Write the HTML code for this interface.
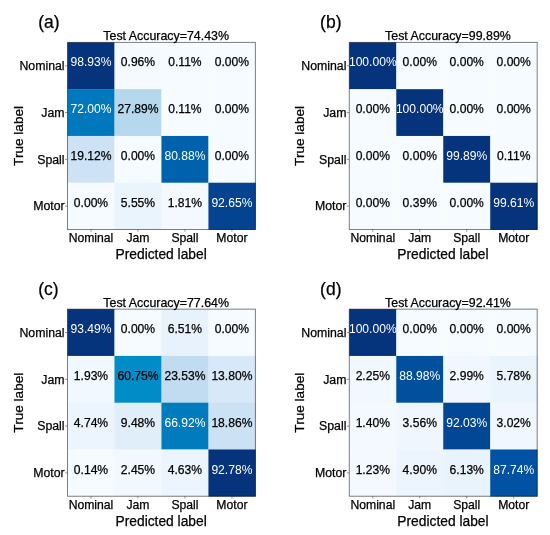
<!DOCTYPE html>
<html><head><meta charset="utf-8"><style>
html,body{margin:0;padding:0;background:#fff;}
svg{display:block;}
text{font-family:"Liberation Sans", Arial, Helvetica, sans-serif;stroke-width:0.25px;}
.k{stroke:#000;}
.w{stroke:none;}
.v{font-size:12.1px;text-anchor:middle;}
.yt{font-size:12.3px;text-anchor:end;fill:#000;}
.xt{font-size:12.2px;text-anchor:middle;fill:#000;}
.al{font-size:13.8px;text-anchor:middle;fill:#000;}
.yl{font-size:13.6px;}
.ti{font-size:12.4px;text-anchor:start;fill:#000;}
.pl{font-size:17.5px;text-anchor:start;fill:#000;}
</style></head><body>
<svg width="550" height="535" viewBox="0 0 550 535">
<rect width="550" height="535" fill="#fff"/>
<g><rect x="67.50" y="42.40" width="47.27" height="47.07" fill="#05337c"/>
<rect x="114.47" y="42.40" width="47.27" height="47.07" fill="#f4fafe"/>
<rect x="161.45" y="42.40" width="47.27" height="47.07" fill="#f6fbff"/>
<rect x="208.43" y="42.40" width="47.27" height="47.07" fill="#f6fbff"/>
<rect x="67.50" y="89.17" width="47.27" height="47.07" fill="#0078bd"/>
<rect x="114.47" y="89.17" width="47.27" height="47.07" fill="#b5d8ed"/>
<rect x="161.45" y="89.17" width="47.27" height="47.07" fill="#f6fbff"/>
<rect x="208.43" y="89.17" width="47.27" height="47.07" fill="#f6fbff"/>
<rect x="67.50" y="135.95" width="47.27" height="47.07" fill="#cde3f5"/>
<rect x="114.47" y="135.95" width="47.27" height="47.07" fill="#f6fbff"/>
<rect x="161.45" y="135.95" width="47.27" height="47.07" fill="#0061ac"/>
<rect x="208.43" y="135.95" width="47.27" height="47.07" fill="#f6fbff"/>
<rect x="67.50" y="182.72" width="47.27" height="47.07" fill="#f6fbff"/>
<rect x="114.47" y="182.72" width="47.27" height="47.07" fill="#eaf4fc"/>
<rect x="161.45" y="182.72" width="47.27" height="47.07" fill="#f3f9ff"/>
<rect x="208.43" y="182.72" width="47.27" height="47.07" fill="#034390"/>
<rect x="67.50" y="42.40" width="187.90" height="187.10" fill="none" stroke="rgba(0,0,0,0.5)" stroke-width="1"/>
<text x="90.99" y="66.49" class="v w" fill="#fff">98.93%</text>
<text x="137.96" y="66.49" class="v k" fill="#000">0.96%</text>
<text x="184.94" y="66.49" class="v k" fill="#000">0.11%</text>
<text x="231.91" y="66.49" class="v k" fill="#000">0.00%</text>
<text x="90.99" y="113.26" class="v w" fill="#fff">72.00%</text>
<text x="137.96" y="113.26" class="v k" fill="#000">27.89%</text>
<text x="184.94" y="113.26" class="v k" fill="#000">0.11%</text>
<text x="231.91" y="113.26" class="v k" fill="#000">0.00%</text>
<text x="90.99" y="160.04" class="v k" fill="#000">19.12%</text>
<text x="137.96" y="160.04" class="v k" fill="#000">0.00%</text>
<text x="184.94" y="160.04" class="v w" fill="#fff">80.88%</text>
<text x="231.91" y="160.04" class="v k" fill="#000">0.00%</text>
<text x="90.99" y="206.81" class="v k" fill="#000">0.00%</text>
<text x="137.96" y="206.81" class="v k" fill="#000">5.55%</text>
<text x="184.94" y="206.81" class="v k" fill="#000">1.81%</text>
<text x="231.91" y="206.81" class="v w" fill="#fff">92.65%</text>
<line x1="65.00" x2="67.50" y1="65.79" y2="65.79" stroke="rgba(0,0,0,0.5)" stroke-width="0.8"/>
<text x="64.60" y="69.99" class="yt k">Nominal</text>
<line x1="65.00" x2="67.50" y1="112.56" y2="112.56" stroke="rgba(0,0,0,0.5)" stroke-width="0.8"/>
<text x="64.60" y="116.76" class="yt k">Jam</text>
<line x1="65.00" x2="67.50" y1="159.34" y2="159.34" stroke="rgba(0,0,0,0.5)" stroke-width="0.8"/>
<text x="64.60" y="163.54" class="yt k">Spall</text>
<line x1="65.00" x2="67.50" y1="206.11" y2="206.11" stroke="rgba(0,0,0,0.5)" stroke-width="0.8"/>
<text x="64.60" y="210.31" class="yt k">Motor</text>
<line x1="90.99" x2="90.99" y1="229.50" y2="231.80" stroke="rgba(0,0,0,0.5)" stroke-width="0.8"/>
<text x="90.99" y="241.80" class="xt k">Nominal</text>
<line x1="137.96" x2="137.96" y1="229.50" y2="231.80" stroke="rgba(0,0,0,0.5)" stroke-width="0.8"/>
<text x="137.96" y="241.80" class="xt k">Jam</text>
<line x1="184.94" x2="184.94" y1="229.50" y2="231.80" stroke="rgba(0,0,0,0.5)" stroke-width="0.8"/>
<text x="184.94" y="241.80" class="xt k">Spall</text>
<line x1="231.91" x2="231.91" y1="229.50" y2="231.80" stroke="rgba(0,0,0,0.5)" stroke-width="0.8"/>
<text x="231.91" y="241.80" class="xt k">Motor</text>
<text x="161.15" y="259.40" class="al k">Predicted label</text>
<text transform="translate(22.50,135.95) rotate(-90)" x="0" y="0" class="al yl k">True label</text>
<text x="103.30" y="40.00" class="ti k">Test Accuracy=74.43%</text>
<text x="38.30" y="28.00" class="pl k">(a)</text></g>
<g><rect x="349.30" y="42.40" width="47.27" height="47.07" fill="#05337c"/>
<rect x="396.28" y="42.40" width="47.27" height="47.07" fill="#f6fbff"/>
<rect x="443.25" y="42.40" width="47.27" height="47.07" fill="#f6fbff"/>
<rect x="490.23" y="42.40" width="47.27" height="47.07" fill="#f6fbff"/>
<rect x="349.30" y="89.17" width="47.27" height="47.07" fill="#f6fbff"/>
<rect x="396.28" y="89.17" width="47.27" height="47.07" fill="#05337c"/>
<rect x="443.25" y="89.17" width="47.27" height="47.07" fill="#f6fbff"/>
<rect x="490.23" y="89.17" width="47.27" height="47.07" fill="#f6fbff"/>
<rect x="349.30" y="135.95" width="47.27" height="47.07" fill="#f6fbff"/>
<rect x="396.28" y="135.95" width="47.27" height="47.07" fill="#f6fbff"/>
<rect x="443.25" y="135.95" width="47.27" height="47.07" fill="#05337c"/>
<rect x="490.23" y="135.95" width="47.27" height="47.07" fill="#f6fbff"/>
<rect x="349.30" y="182.72" width="47.27" height="47.07" fill="#f6fbff"/>
<rect x="396.28" y="182.72" width="47.27" height="47.07" fill="#f6fbff"/>
<rect x="443.25" y="182.72" width="47.27" height="47.07" fill="#f6fbff"/>
<rect x="490.23" y="182.72" width="47.27" height="47.07" fill="#05337c"/>
<rect x="349.30" y="42.40" width="187.90" height="187.10" fill="none" stroke="rgba(0,0,0,0.5)" stroke-width="1"/>
<text x="372.79" y="66.49" class="v w" fill="#fff">100.00%</text>
<text x="419.76" y="66.49" class="v k" fill="#000">0.00%</text>
<text x="466.74" y="66.49" class="v k" fill="#000">0.00%</text>
<text x="513.71" y="66.49" class="v k" fill="#000">0.00%</text>
<text x="372.79" y="113.26" class="v k" fill="#000">0.00%</text>
<text x="419.76" y="113.26" class="v w" fill="#fff">100.00%</text>
<text x="466.74" y="113.26" class="v k" fill="#000">0.00%</text>
<text x="513.71" y="113.26" class="v k" fill="#000">0.00%</text>
<text x="372.79" y="160.04" class="v k" fill="#000">0.00%</text>
<text x="419.76" y="160.04" class="v k" fill="#000">0.00%</text>
<text x="466.74" y="160.04" class="v w" fill="#fff">99.89%</text>
<text x="513.71" y="160.04" class="v k" fill="#000">0.11%</text>
<text x="372.79" y="206.81" class="v k" fill="#000">0.00%</text>
<text x="419.76" y="206.81" class="v k" fill="#000">0.39%</text>
<text x="466.74" y="206.81" class="v k" fill="#000">0.00%</text>
<text x="513.71" y="206.81" class="v w" fill="#fff">99.61%</text>
<line x1="346.80" x2="349.30" y1="65.79" y2="65.79" stroke="rgba(0,0,0,0.5)" stroke-width="0.8"/>
<text x="346.40" y="69.99" class="yt k">Nominal</text>
<line x1="346.80" x2="349.30" y1="112.56" y2="112.56" stroke="rgba(0,0,0,0.5)" stroke-width="0.8"/>
<text x="346.40" y="116.76" class="yt k">Jam</text>
<line x1="346.80" x2="349.30" y1="159.34" y2="159.34" stroke="rgba(0,0,0,0.5)" stroke-width="0.8"/>
<text x="346.40" y="163.54" class="yt k">Spall</text>
<line x1="346.80" x2="349.30" y1="206.11" y2="206.11" stroke="rgba(0,0,0,0.5)" stroke-width="0.8"/>
<text x="346.40" y="210.31" class="yt k">Motor</text>
<line x1="372.79" x2="372.79" y1="229.50" y2="231.80" stroke="rgba(0,0,0,0.5)" stroke-width="0.8"/>
<text x="372.79" y="241.80" class="xt k">Nominal</text>
<line x1="419.76" x2="419.76" y1="229.50" y2="231.80" stroke="rgba(0,0,0,0.5)" stroke-width="0.8"/>
<text x="419.76" y="241.80" class="xt k">Jam</text>
<line x1="466.74" x2="466.74" y1="229.50" y2="231.80" stroke="rgba(0,0,0,0.5)" stroke-width="0.8"/>
<text x="466.74" y="241.80" class="xt k">Spall</text>
<line x1="513.71" x2="513.71" y1="229.50" y2="231.80" stroke="rgba(0,0,0,0.5)" stroke-width="0.8"/>
<text x="513.71" y="241.80" class="xt k">Motor</text>
<text x="442.95" y="259.40" class="al k">Predicted label</text>
<text transform="translate(304.30,135.95) rotate(-90)" x="0" y="0" class="al yl k">True label</text>
<text x="385.10" y="40.00" class="ti k">Test Accuracy=99.89%</text>
<text x="320.10" y="28.00" class="pl k">(b)</text></g>
<g><rect x="67.50" y="309.15" width="47.27" height="47.07" fill="#05337c"/>
<rect x="114.47" y="309.15" width="47.27" height="47.07" fill="#f6fbff"/>
<rect x="161.45" y="309.15" width="47.27" height="47.07" fill="#e8f2fc"/>
<rect x="208.43" y="309.15" width="47.27" height="47.07" fill="#f6fbff"/>
<rect x="67.50" y="355.92" width="47.27" height="47.07" fill="#f2f8ff"/>
<rect x="114.47" y="355.92" width="47.27" height="47.07" fill="#008dc7"/>
<rect x="161.45" y="355.92" width="47.27" height="47.07" fill="#c1dcf1"/>
<rect x="208.43" y="355.92" width="47.27" height="47.07" fill="#d7e9f8"/>
<rect x="67.50" y="402.70" width="47.27" height="47.07" fill="#ecf5fd"/>
<rect x="114.47" y="402.70" width="47.27" height="47.07" fill="#e0eefa"/>
<rect x="161.45" y="402.70" width="47.27" height="47.07" fill="#007cbe"/>
<rect x="208.43" y="402.70" width="47.27" height="47.07" fill="#cce2f4"/>
<rect x="67.50" y="449.47" width="47.27" height="47.07" fill="#f6fbff"/>
<rect x="114.47" y="449.47" width="47.27" height="47.07" fill="#f1f8fe"/>
<rect x="161.45" y="449.47" width="47.27" height="47.07" fill="#ecf5fd"/>
<rect x="208.43" y="449.47" width="47.27" height="47.07" fill="#05347d"/>
<rect x="67.50" y="309.15" width="187.90" height="187.10" fill="none" stroke="rgba(0,0,0,0.5)" stroke-width="1"/>
<text x="90.99" y="333.24" class="v w" fill="#fff">93.49%</text>
<text x="137.96" y="333.24" class="v k" fill="#000">0.00%</text>
<text x="184.94" y="333.24" class="v k" fill="#000">6.51%</text>
<text x="231.91" y="333.24" class="v k" fill="#000">0.00%</text>
<text x="90.99" y="380.01" class="v k" fill="#000">1.93%</text>
<text x="137.96" y="380.01" class="v k" fill="#000">60.75%</text>
<text x="184.94" y="380.01" class="v k" fill="#000">23.53%</text>
<text x="231.91" y="380.01" class="v k" fill="#000">13.80%</text>
<text x="90.99" y="426.79" class="v k" fill="#000">4.74%</text>
<text x="137.96" y="426.79" class="v k" fill="#000">9.48%</text>
<text x="184.94" y="426.79" class="v w" fill="#fff">66.92%</text>
<text x="231.91" y="426.79" class="v k" fill="#000">18.86%</text>
<text x="90.99" y="473.56" class="v k" fill="#000">0.14%</text>
<text x="137.96" y="473.56" class="v k" fill="#000">2.45%</text>
<text x="184.94" y="473.56" class="v k" fill="#000">4.63%</text>
<text x="231.91" y="473.56" class="v w" fill="#fff">92.78%</text>
<line x1="65.00" x2="67.50" y1="332.54" y2="332.54" stroke="rgba(0,0,0,0.5)" stroke-width="0.8"/>
<text x="64.60" y="336.74" class="yt k">Nominal</text>
<line x1="65.00" x2="67.50" y1="379.31" y2="379.31" stroke="rgba(0,0,0,0.5)" stroke-width="0.8"/>
<text x="64.60" y="383.51" class="yt k">Jam</text>
<line x1="65.00" x2="67.50" y1="426.09" y2="426.09" stroke="rgba(0,0,0,0.5)" stroke-width="0.8"/>
<text x="64.60" y="430.29" class="yt k">Spall</text>
<line x1="65.00" x2="67.50" y1="472.86" y2="472.86" stroke="rgba(0,0,0,0.5)" stroke-width="0.8"/>
<text x="64.60" y="477.06" class="yt k">Motor</text>
<line x1="90.99" x2="90.99" y1="496.25" y2="498.55" stroke="rgba(0,0,0,0.5)" stroke-width="0.8"/>
<text x="90.99" y="508.55" class="xt k">Nominal</text>
<line x1="137.96" x2="137.96" y1="496.25" y2="498.55" stroke="rgba(0,0,0,0.5)" stroke-width="0.8"/>
<text x="137.96" y="508.55" class="xt k">Jam</text>
<line x1="184.94" x2="184.94" y1="496.25" y2="498.55" stroke="rgba(0,0,0,0.5)" stroke-width="0.8"/>
<text x="184.94" y="508.55" class="xt k">Spall</text>
<line x1="231.91" x2="231.91" y1="496.25" y2="498.55" stroke="rgba(0,0,0,0.5)" stroke-width="0.8"/>
<text x="231.91" y="508.55" class="xt k">Motor</text>
<text x="161.15" y="526.15" class="al k">Predicted label</text>
<text transform="translate(22.50,402.70) rotate(-90)" x="0" y="0" class="al yl k">True label</text>
<text x="103.30" y="306.75" class="ti k">Test Accuracy=77.64%</text>
<text x="38.30" y="294.75" class="pl k">(c)</text></g>
<g><rect x="349.30" y="309.15" width="47.27" height="47.07" fill="#05337c"/>
<rect x="396.28" y="309.15" width="47.27" height="47.07" fill="#f6fbff"/>
<rect x="443.25" y="309.15" width="47.27" height="47.07" fill="#f6fbff"/>
<rect x="490.23" y="309.15" width="47.27" height="47.07" fill="#f6fbff"/>
<rect x="349.30" y="355.92" width="47.27" height="47.07" fill="#f2f8ff"/>
<rect x="396.28" y="355.92" width="47.27" height="47.07" fill="#01509e"/>
<rect x="443.25" y="355.92" width="47.27" height="47.07" fill="#f1f7fe"/>
<rect x="490.23" y="355.92" width="47.27" height="47.07" fill="#eaf4fc"/>
<rect x="349.30" y="402.70" width="47.27" height="47.07" fill="#f4f9ff"/>
<rect x="396.28" y="402.70" width="47.27" height="47.07" fill="#eff6fe"/>
<rect x="443.25" y="402.70" width="47.27" height="47.07" fill="#024795"/>
<rect x="490.23" y="402.70" width="47.27" height="47.07" fill="#f1f7fe"/>
<rect x="349.30" y="449.47" width="47.27" height="47.07" fill="#f4f9ff"/>
<rect x="396.28" y="449.47" width="47.27" height="47.07" fill="#ecf5fd"/>
<rect x="443.25" y="449.47" width="47.27" height="47.07" fill="#e9f3fc"/>
<rect x="490.23" y="449.47" width="47.27" height="47.07" fill="#0152a2"/>
<rect x="349.30" y="309.15" width="187.90" height="187.10" fill="none" stroke="rgba(0,0,0,0.5)" stroke-width="1"/>
<text x="372.79" y="333.24" class="v w" fill="#fff">100.00%</text>
<text x="419.76" y="333.24" class="v k" fill="#000">0.00%</text>
<text x="466.74" y="333.24" class="v k" fill="#000">0.00%</text>
<text x="513.71" y="333.24" class="v k" fill="#000">0.00%</text>
<text x="372.79" y="380.01" class="v k" fill="#000">2.25%</text>
<text x="419.76" y="380.01" class="v w" fill="#fff">88.98%</text>
<text x="466.74" y="380.01" class="v k" fill="#000">2.99%</text>
<text x="513.71" y="380.01" class="v k" fill="#000">5.78%</text>
<text x="372.79" y="426.79" class="v k" fill="#000">1.40%</text>
<text x="419.76" y="426.79" class="v k" fill="#000">3.56%</text>
<text x="466.74" y="426.79" class="v w" fill="#fff">92.03%</text>
<text x="513.71" y="426.79" class="v k" fill="#000">3.02%</text>
<text x="372.79" y="473.56" class="v k" fill="#000">1.23%</text>
<text x="419.76" y="473.56" class="v k" fill="#000">4.90%</text>
<text x="466.74" y="473.56" class="v k" fill="#000">6.13%</text>
<text x="513.71" y="473.56" class="v w" fill="#fff">87.74%</text>
<line x1="346.80" x2="349.30" y1="332.54" y2="332.54" stroke="rgba(0,0,0,0.5)" stroke-width="0.8"/>
<text x="346.40" y="336.74" class="yt k">Nominal</text>
<line x1="346.80" x2="349.30" y1="379.31" y2="379.31" stroke="rgba(0,0,0,0.5)" stroke-width="0.8"/>
<text x="346.40" y="383.51" class="yt k">Jam</text>
<line x1="346.80" x2="349.30" y1="426.09" y2="426.09" stroke="rgba(0,0,0,0.5)" stroke-width="0.8"/>
<text x="346.40" y="430.29" class="yt k">Spall</text>
<line x1="346.80" x2="349.30" y1="472.86" y2="472.86" stroke="rgba(0,0,0,0.5)" stroke-width="0.8"/>
<text x="346.40" y="477.06" class="yt k">Motor</text>
<line x1="372.79" x2="372.79" y1="496.25" y2="498.55" stroke="rgba(0,0,0,0.5)" stroke-width="0.8"/>
<text x="372.79" y="508.55" class="xt k">Nominal</text>
<line x1="419.76" x2="419.76" y1="496.25" y2="498.55" stroke="rgba(0,0,0,0.5)" stroke-width="0.8"/>
<text x="419.76" y="508.55" class="xt k">Jam</text>
<line x1="466.74" x2="466.74" y1="496.25" y2="498.55" stroke="rgba(0,0,0,0.5)" stroke-width="0.8"/>
<text x="466.74" y="508.55" class="xt k">Spall</text>
<line x1="513.71" x2="513.71" y1="496.25" y2="498.55" stroke="rgba(0,0,0,0.5)" stroke-width="0.8"/>
<text x="513.71" y="508.55" class="xt k">Motor</text>
<text x="442.95" y="526.15" class="al k">Predicted label</text>
<text transform="translate(304.30,402.70) rotate(-90)" x="0" y="0" class="al yl k">True label</text>
<text x="385.10" y="306.75" class="ti k">Test Accuracy=92.41%</text>
<text x="320.10" y="294.75" class="pl k">(d)</text></g>
</svg>
</body></html>
